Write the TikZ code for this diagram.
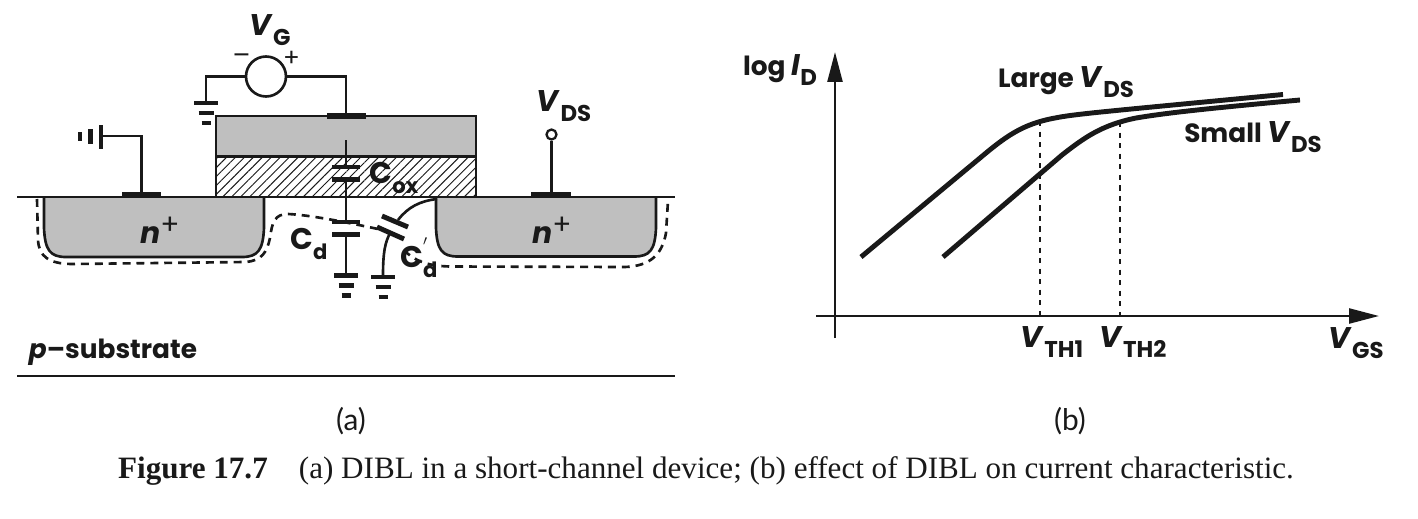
\documentclass[tikz,border=0pt]{standalone}
\usepackage{fontspec}
\setmainfont{Poppins}
\newfontfamily\capfont{Liberation Serif}
\newfontfamily\plainfont{Lato}
\usetikzlibrary{positioning,calc,arrows.meta,patterns.meta}

\definecolor{wellgray}{gray}{0.75}
\definecolor{inkblack}{gray}{0.1}

% bold label with a bold subscript
\newcommand{\lab}[2]{\bfseries\fontsize{17}{18}\selectfont\textit{#1}\raisebox{-0.6ex}{\fontsize{13}{14}\selectfont #2}}
\newcommand{\labc}[2]{\bfseries\fontsize{17}{18}\selectfont #1\raisebox{-0.6ex}{\fontsize{12}{14}\selectfont #2}}

\tikzset{
  wire/.style={line width=1.5pt,draw=inkblack},
  plate/.style={line width=2.8pt,draw=inkblack},
  contact/.style={line width=3pt,draw=inkblack},
  curve/.style={line width=2.8pt,draw=inkblack},
  depl/.style={line width=1.5pt,draw=inkblack,dash pattern=on 4.5pt off 3.4pt},
  guide/.style={line width=1.3pt,draw=inkblack,dash pattern=on 3pt off 3pt},
  axis/.style={line width=1.4pt,draw=inkblack,-{Triangle[length=17pt,width=8.5pt]}},
  gnd/.pic={
    \draw[plate] (-12,0) -- (12,0);
    \draw[plate] (-7.5,10) -- (7.5,10);
    \draw[plate] (-4.5,20) -- (4.5,20);
  }
}

\begin{document}
\begin{tikzpicture}[x=0.02cm,y=-0.02cm,text=inkblack]
      \useasboundingbox (0,0) rectangle (1418,518);

      % gate and oxide
      \draw[wire,fill=wellgray] (216,116) rectangle (476,156.5);
      \fill[white] (216,156.5) rectangle (476,197);
      \fill[pattern={Lines[angle=45,distance=3.6pt,line width=0.55pt]},pattern color=inkblack] (216,156.5) rectangle (476,197);
      \draw[wire] (216,156.5) rectangle (476,197);

      % wells
      \draw[wire,fill=wellgray] (44,197) -- (44,228) .. controls (45,250) and (50,257) .. (66,257) -- (242,257) .. controls (258,257) and (263,250) .. (264,228) -- (264,197);
      \draw[wire,fill=wellgray] (436,197) -- (436,228) .. controls (437,250) and (442,256.5) .. (458,256.5) -- (634,256.5) .. controls (650,256.5) and (655,250) .. (656,228) -- (656,197);
      \draw[wire] (17,197) -- (675,197);
      \draw[wire] (17,376) -- (675,376);

      % depletion edge
      \draw[depl] (37,199) -- (38,240) .. controls (39,256) and (48,264) .. (73,264) -- (245,262) .. controls (262,261) and (267,252) .. (270,238) .. controls (272,222) and (275,214) .. (288,214) .. controls (310,215) and (345,222) .. (378,229);
      \draw[depl] (404,250) .. controls (415,262) and (430,266) .. (450,266.5) -- (625,267) .. controls (650,266) and (662,255) .. (666,233) -- (668,201);

      % contacts and their wires
      \draw[contact] (122,195) -- (161,195);
      \draw[contact] (327,116) -- (366,116);
      \draw[contact] (531,195) -- (571,195);
      \node[circle,draw=inkblack,line width=1.5pt,fill=white,minimum size=0.8cm,inner sep=0pt] (src) at (266,76.5) {};
      \coordinate (gatepin) at (346,116);
      \coordinate (gndgate) at (206,102);
      \draw[wire] (src.east) -| (gatepin);
      \draw[wire] (src.west) -| (gndgate);
      \pic at (206,103) {gnd};
      \node[inner sep=0pt] (minus) at (241.5,59) {\fontsize{15}{18}\selectfont –};
      \node[inner sep=0pt] (plus) at (291.5,59) {\fontsize{14}{18}\selectfont +};

      % bulk
      \coordinate (bulkpin) at (141.5,195);
      \coordinate (bulkgnd) at (103,136);
      \draw[wire] (bulkpin) |- (bulkgnd);
      \draw[plate] (101,125) -- (101,149);
      \draw[plate] (90.5,129) -- (90.5,144);
      \draw[plate] (80,132) -- (80,141);

      % drain
      \node[circle,draw=inkblack,line width=1.3pt,fill=white,minimum size=0.2cm,inner sep=0pt] (drainpin) at (551.5,134.5) {};
      \coordinate (drainbase) at (551.5,195);
      \draw[wire] (drainpin) -- (drainbase);

      % capacitors
      \draw[wire] (346,140) -- (346,167);
      \draw[plate] (332,167) -- (360,167);
      \draw[plate] (332,179.5) -- (360,179.5);
      \draw[wire] (346,179.5) -- (346,222);
      \draw[plate] (332,222) -- (360,222);
      \draw[plate] (332,234.5) -- (360,234.5);
      \draw[wire] (346,234.5) -- (346,275);
      \pic at (346,275.5) {gnd};

      \draw[plate] (382,216) -- (408,227);
      \draw[plate] (377,227) -- (404,239);
      \draw[wire] (398,220) .. controls (408,207) and (420,201) .. (437,199);
      \draw[wire] (390,233) .. controls (385,243) and (383,252) .. (383,276);
      \pic at (383,277) {gnd};

      % labels of the device
      \node (vg) at (270,30) {\lab{V}{G}};
      \node (vds) at (564,106) {\lab{V}{DS}};
      \node (nleft) at (160,230) {\fontsize{17}{18}\selectfont\textbf{\textit{n}}\raisebox{0.55ex}{\fontsize{16}{18}\selectfont\normalfont +}};
      \node (nright) at (552,230) {\fontsize{17}{18}\selectfont\textbf{\textit{n}}\raisebox{0.55ex}{\fontsize{16}{18}\selectfont\normalfont +}};
      \node (cox) at (394,178) {\labc{C}{ox}};
      \node (cd) at (309,244) {\labc{C}{d}};
      \node (cdp) at (419,262) {\labc{C}{d}};
      \node[inner sep=0pt] (cdtick) at (425.5,245.5) {\fontsize{12}{14}\selectfont$'$};
      \node (sub) at (113,352) {\bfseries\fontsize{15}{18}\selectfont\textit{p}–substrate};
      \node (cap1) at (351,421) {\plainfont\fontsize{17}{18}\selectfont (a)};

      % characteristic
      \coordinate (xl) at (816,316);
      \coordinate (xr) at (1379,316);
      \coordinate (yb) at (835,338);
      \coordinate (yt) at (835,52);
      \draw[axis] (xl) -- (xr);
      \draw[axis] (yb) -- (yt);
      \coordinate (th1) at (1040,121);
      \coordinate (th2) at (1120,122);
      \draw[guide] (th1) -- (th1 |- xl);
      \draw[guide] (th2) -- (th2 |- xl);
      \draw[curve] (861,257) -- (980,158) .. controls (1005,137) and (1022,124) .. (1055,118) .. controls (1075,114) and (1100,112) .. (1283,94.5);
      \draw[curve] (943,257) -- (1062,155) .. controls (1085,137) and (1102,125) .. (1136,118) .. controls (1160,114) and (1190,110) .. (1300,100);

      \node (logid) at (780,70) {\bfseries\fontsize{15}{18}\selectfont log \fontsize{17}{18}\selectfont\textit{I}\raisebox{-0.6ex}{\fontsize{13}{14}\selectfont D}};
      \node (large) at (1066,82) {\bfseries\fontsize{15}{18}\selectfont Large \lab{V}{DS}};
      \node (small) at (1253,137) {\bfseries\fontsize{15}{18}\selectfont Small \lab{V}{DS}};
      \node (vth1) at (1052,342) {\lab{V}{TH1}};
      \node (vth2) at (1133,342) {\lab{V}{TH2}};
      \node (vgs) at (1356,343) {\lab{V}{GS}};
      \node (cap2) at (1070,421) {\plainfont\fontsize{17}{18}\selectfont (b)};

      \node (caption) at (706,471) {\capfont\fontsize{17.7}{20}\selectfont\textbf{Figure 17.7}\quad (a) DIBL in a short-channel device; (b) effect of DIBL on current characteristic.};
\end{tikzpicture}
\end{document}
